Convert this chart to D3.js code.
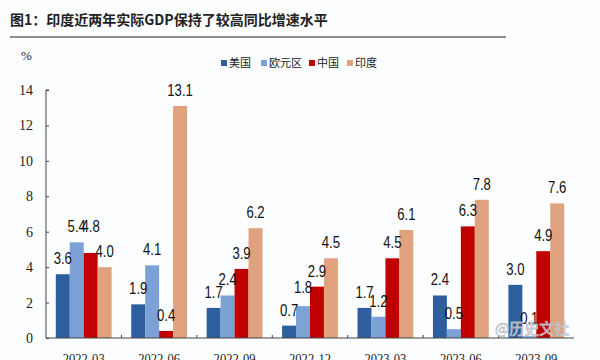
<!DOCTYPE html>
<html>
<head>
<meta charset="utf-8">
<script src="https://cdn.jsdelivr.net/npm/d3@7"></script>
<style>
  body { margin: 0; background: #fdfeff; }
  svg { display: block; }
</style>
</head>
<body>
<div id="chart"></div>
<script>
// quarters on the x axis
var quarters = ["2022-03", "2022-06", "2022-09", "2022-12", "2023-03", "2023-06", "2023-09"];
var seriesNames = ["美国", "欧元区", "中国", "印度"];
var usValues    = [3.6, 1.9, 1.7, 0.7, 1.7, 2.4, 3.0];
var euValues    = [5.4, 4.1, 2.4, 1.8, 1.2, 0.5, 0.1];
var chinaValues = [4.8, 0.4, 3.9, 2.9, 4.5, 6.3, 4.9];
var indiaValues = [4.0, 13.1, 6.2, 4.5, 6.1, 7.8, 7.6];
var yTicks = [0, 2, 4, 6, 8, 10, 12, 14];

var colors = ["#2d5f9e", "#7ba1d6", "#c00000", "#e0a27e"];
var allValues = [usValues, euValues, chinaValues, indiaValues];

var width = 600, height = 360;
var margin = {top: 90, right: 26, bottom: 22, left: 46};

var svg = d3.select("#chart")
  .append("svg")
  .attr("width", width)
  .attr("height", height);

// title + rule
svg.append("text")
  .attr("x", 10)
  .attr("y", 25)
  .attr("font-family", "Noto Sans CJK SC")
  .attr("font-weight", "bold")
  .attr("font-size", 14)
  .attr("fill", "#222")
  .text("图1：印度近两年实际GDP保持了较高同比增速水平");
svg.append("line")
  .attr("x1", 10).attr("x2", 506)
  .attr("y1", 37).attr("y2", 37)
  .attr("stroke", "#222")
  .attr("stroke-width", 1.2);

var x0 = d3.scaleBand()
  .domain(quarters)
  .range([margin.left, width - margin.right])
  .paddingInner(0.26)
  .paddingOuter(0.13);
var x1 = d3.scaleBand()
  .domain(d3.range(seriesNames.length))
  .range([0, x0.bandwidth()]);
var y = d3.scaleLinear()
  .domain([0, 14])
  .range([height - margin.bottom, margin.top]);

// y axis
var yAxis = svg.append("g")
  .attr("transform", "translate(" + margin.left + ",0)")
  .call(d3.axisRight(y).tickValues(yTicks).tickSize(3).tickFormat(d3.format("d")));
yAxis.select(".domain").attr("stroke", "#444").attr("d", "M3," + y(14) + "H0V" + y(0));
yAxis.selectAll(".tick line").attr("stroke", "#444");
yAxis.selectAll(".tick text")
  .attr("x", -13)
  .attr("text-anchor", "end")
  .attr("font-family", "Liberation Serif")
  .attr("font-size", 14)
  .attr("fill", "#222");

svg.append("text")
  .attr("x", 21)
  .attr("y", 60)
  .attr("font-family", "Liberation Serif")
  .attr("font-size", 13)
  .attr("fill", "#222")
  .text("%");

// bars
var groups = svg.append("g").selectAll("g")
  .data(quarters)
  .join("g")
  .attr("transform", function(d) { return "translate(" + x0(d) + ",0)"; });

groups.selectAll("rect")
  .data(function(d, i) { return allValues.map(function(vals, s) { return {s: s, v: vals[i]}; }); })
  .join("rect")
  .attr("x", function(d) { return x1(d.s); })
  .attr("width", x1.bandwidth())
  .attr("y", function(d) { return y(d.v); })
  .attr("height", function(d) { return y(0) - y(d.v); })
  .attr("fill", function(d) { return colors[d.s]; });

// value labels (a few nudged up like the original to avoid overlap)
var nudges = {"0-2": 11, "3-1": 3, "6-1": 2};
groups.selectAll("text.val")
  .data(function(d, i) { return allValues.map(function(vals, s) { return {s: s, v: vals[i], g: i}; }); })
  .join("text")
  .attr("class", "val")
  .attr("text-anchor", "middle")
  .attr("font-family", "Liberation Sans")
  .attr("font-size", 16)
  .attr("fill", "#111")
  .attr("transform", function(d) {
    var extra = nudges[d.g + "-" + d.s] || 0;
    var cx = x1(d.s) + x1.bandwidth() / 2;
    var cy = y(d.v) - 10 - extra;
    return "translate(" + cx + "," + cy + ") scale(0.82,1)";
  })
  .text(function(d) { return d3.format(".1f")(d.v); });

// x axis
var xAxis = svg.append("g")
  .attr("transform", "translate(0," + y(0) + ")");
xAxis.append("line")
  .attr("x1", margin.left).attr("x2", width - margin.right)
  .attr("stroke", "#444").attr("stroke-width", 1.2);
xAxis.selectAll("line.sep")
  .data(quarters.slice(1))
  .join("line")
  .attr("class", "sep")
  .attr("x1", function(d) { return x0(d) - x0.step() * x0.paddingInner() / 2; })
  .attr("x2", function(d) { return x0(d) - x0.step() * x0.paddingInner() / 2; })
  .attr("y1", 0).attr("y2", -3)
  .attr("stroke", "#444");
xAxis.selectAll("text")
  .data(quarters)
  .join("text")
  .attr("text-anchor", "middle")
  .attr("font-family", "Liberation Serif")
  .attr("font-size", 14)
  .attr("fill", "#222")
  .attr("transform", function(d) { return "translate(" + (x0(d) + x0.bandwidth() / 2) + ",26) scale(0.9,1)"; })
  .text(function(d) { return d; });

// legend
var legendX = [221, 261, 309, 347];
var legend = svg.append("g").selectAll("g")
  .data(seriesNames)
  .join("g")
  .attr("transform", function(d, i) { return "translate(" + legendX[i] + ",60)"; });
legend.append("rect")
  .attr("width", 6).attr("height", 6)
  .attr("y", 0)
  .attr("fill", function(d, i) { return colors[i]; });
legend.append("text")
  .attr("x", 8)
  .attr("y", 7)
  .attr("font-family", "Noto Sans CJK SC")
  .attr("font-size", 11)
  .attr("fill", "#222")
  .text(function(d) { return d; });

// watermark
svg.append("text")
  .attr("x", 495)
  .attr("y", 334)
  .attr("font-family", "Noto Sans CJK SC")
  .attr("font-size", 15)
  .attr("fill", "#ffffff")
  .attr("stroke", "#b8bcc4")
  .attr("stroke-width", 0.8)
  .attr("opacity", 0.9)
  .text("@历史文社");
</script>
</body>
</html>
